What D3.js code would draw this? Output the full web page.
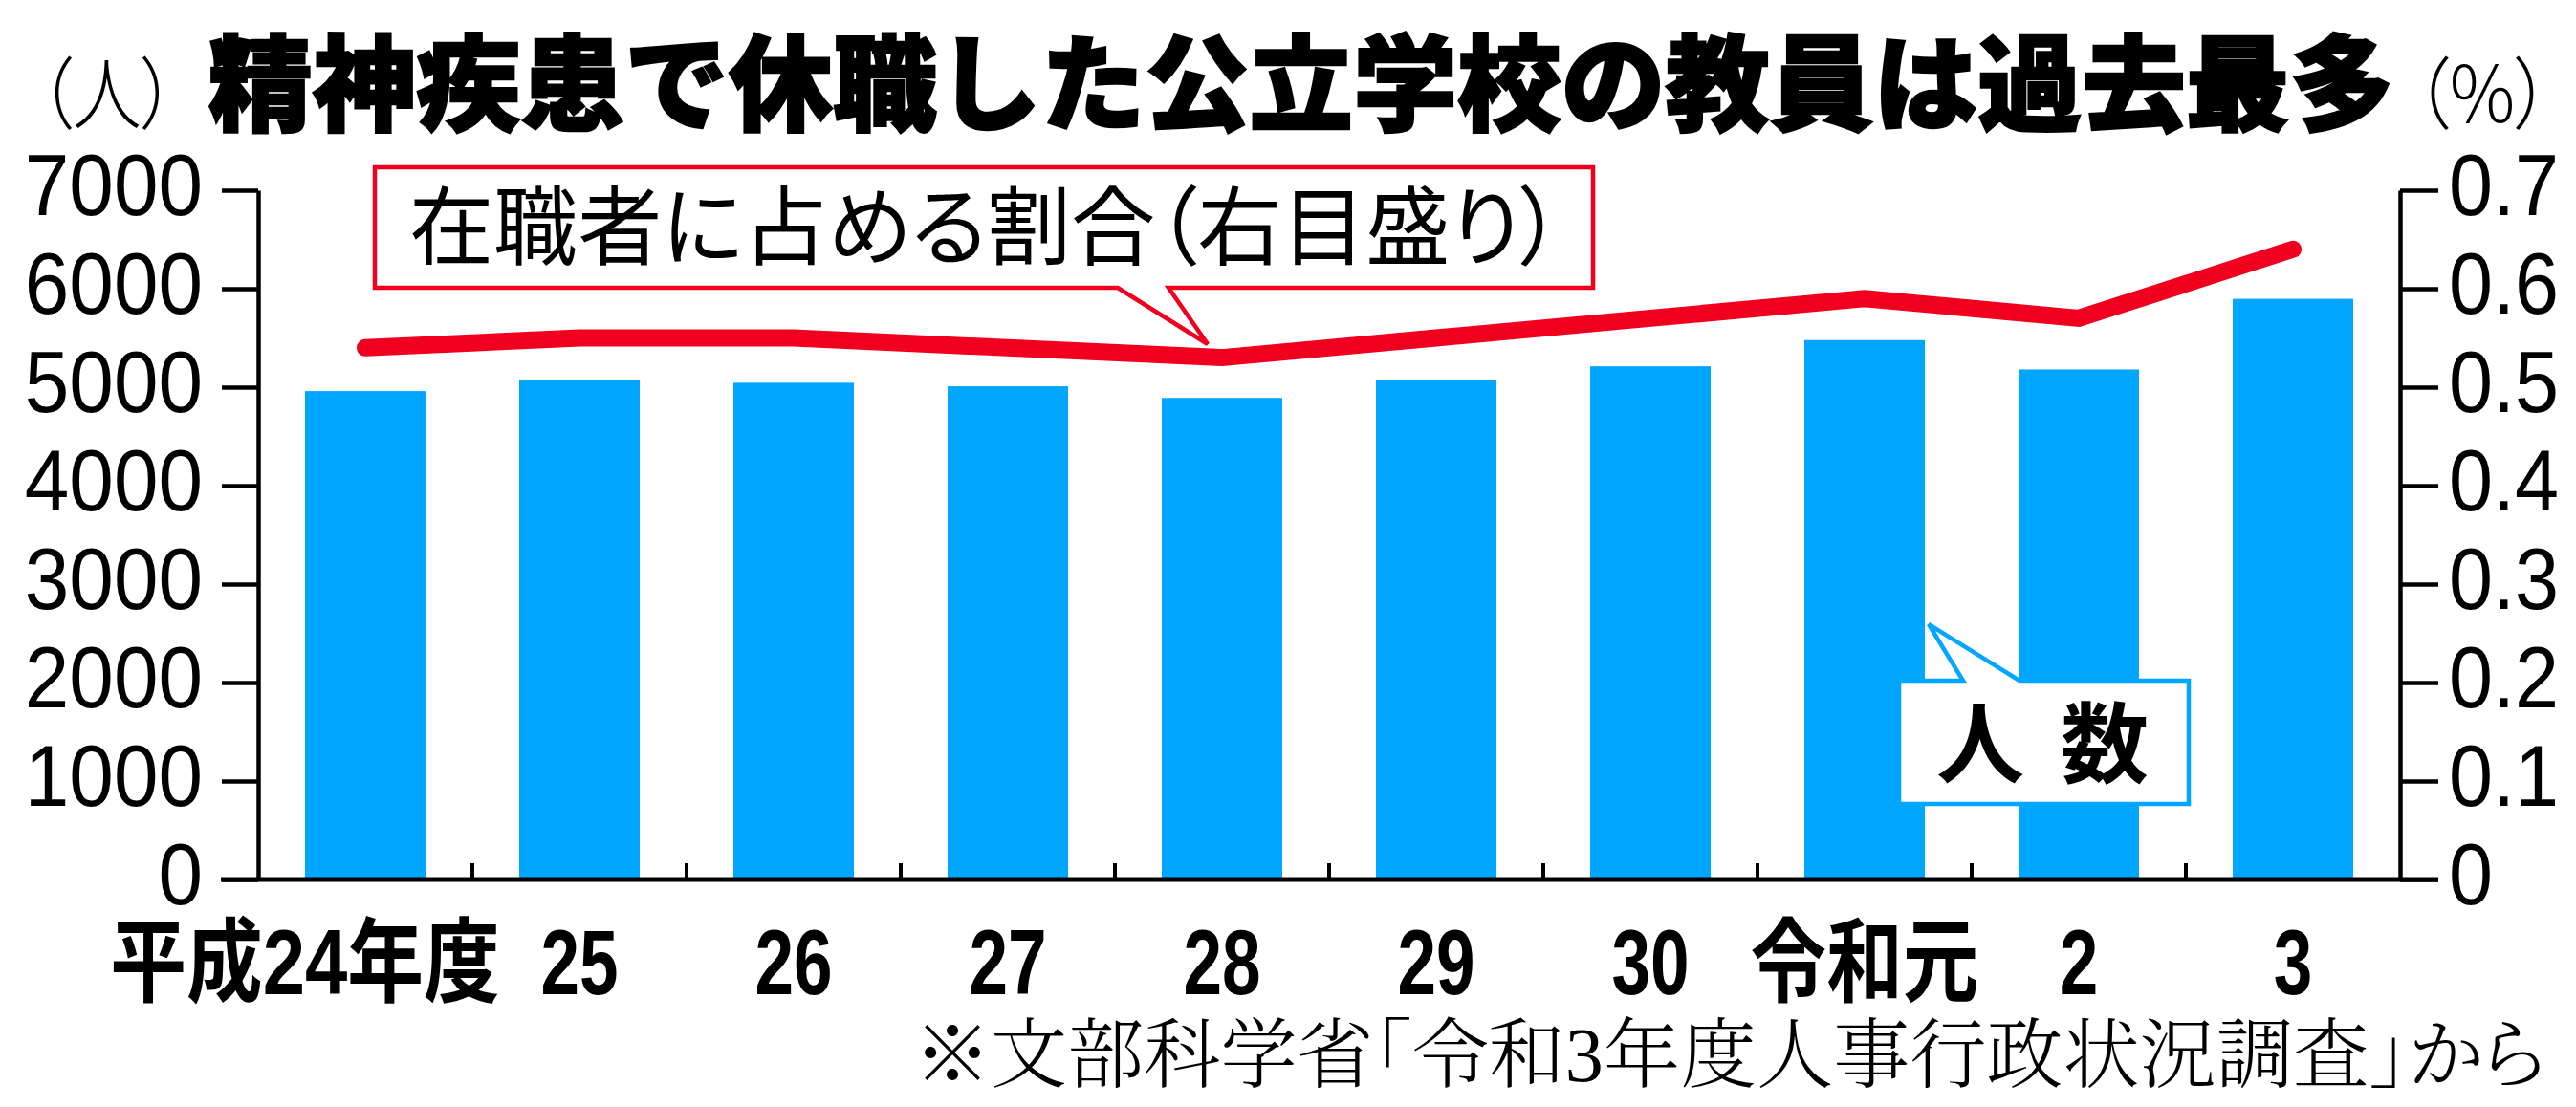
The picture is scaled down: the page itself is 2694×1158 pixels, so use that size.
<!DOCTYPE html>
<html><head><meta charset="utf-8">
<script src="https://cdn.jsdelivr.net/npm/d3@7/dist/d3.min.js"></script>
<style>
html,body{margin:0;padding:0;background:#fff;}
svg{display:block;}
.palt{font-feature-settings:"palt" 1;}
</style></head><body>
<svg id="chart" width="2694" height="1158"></svg>
<script>
// ---- data ----
const categories = ["平成24年度","25","26","27","28","29","30","令和元","2","3"];
const teachers   = [4960,5078,5045,5009,4891,5077,5212,5478,5180,5897];
const ratio      = [0.54,0.55,0.55,0.54,0.53,0.55,0.57,0.59,0.57,0.64];
const leftTicks  = [0,1000,2000,3000,4000,5000,6000,7000];
const rightTicks = [0,0.1,0.2,0.3,0.4,0.5,0.6,0.7];
const titleText  = "精神疾患で休職した公立学校の教員は過去最多";
const ratioLabel = "在職者に占める割合（右目盛り）";
const countLabel = "人 数";
const leftUnit   = "（人）";
const rightUnit  = "（%）";
const sourceText = "※文部科学省「令和3年度人事行政状況調査」から";

// ---- style ----
const BLUE = "#00a6ff", RED = "#f0001e";
const W = 2694, H = 1158;
const m = {left:270, right:2510, top:199, bottom:920};
const CJK = "'Noto Sans CJK JP','Noto Sans CJK SC',sans-serif";
const NUM = "'Liberation Sans','DejaVu Sans',sans-serif";
const MIX = "'Liberation Sans','Noto Sans CJK JP',sans-serif";
const SERIF = "'Liberation Serif','Noto Serif CJK JP','Noto Sans CJK JP',serif";

const svg = d3.select("#chart");
svg.append("rect").attr("width",W).attr("height",H).attr("fill","#fff");

const x  = d3.scaleBand().domain(categories).range([m.left,m.right]).paddingInner(0.4375).paddingOuter(0.21875);
const yL = d3.scaleLinear().domain([0,7000]).range([m.bottom,m.top]);
const yR = d3.scaleLinear().domain([0,0.7]).range([m.bottom,m.top]);
const cx = c => x(c) + x.bandwidth()/2;

// horizontal squeeze via transform (keeps anchor point fixed)
function squeeze(el, f){
  const s = d3.select(el);
  const x0 = +(s.attr("x")||0), y0 = +(s.attr("y")||0);
  s.attr("x",0).attr("y",0).attr("transform",`translate(${x0},${y0}) scale(${f},1)`);
}
function fitWidth(el, w){ squeeze(el, w/el.getComputedTextLength()); }

// bars
svg.append("g").selectAll("rect").data(teachers).join("rect")
  .attr("x",(d,i)=>x(categories[i])).attr("y",d=>yL(d))
  .attr("width",x.bandwidth()).attr("height",d=>yL(0)-yL(d))
  .attr("fill",BLUE);

// ratio line
const line = d3.line().x((d,i)=>cx(categories[i])).y(d=>yR(d));
svg.append("path").datum(ratio).attr("d",line)
  .attr("fill","none").attr("stroke",RED).attr("stroke-width",18)
  .attr("stroke-linecap","round").attr("stroke-linejoin","miter");

// left axis
const gL = svg.append("g").attr("transform",`translate(${m.left},0)`)
  .call(d3.axisLeft(yL).tickValues(leftTicks).tickFormat(d3.format("d"))
        .tickSize(38).tickSizeOuter(0).tickPadding(20));
gL.select(".domain").attr("stroke","#000").attr("stroke-width",4.5);
gL.selectAll(".tick line").attr("stroke","#000").attr("stroke-width",4.5);
gL.selectAll(".tick text").attr("font-family",NUM).attr("font-size",90)
  .attr("fill","#000").attr("dy","0.28em").each(function(){ squeeze(this,0.93); });

// right axis
const gR = svg.append("g").attr("transform",`translate(${m.right},0)`)
  .call(d3.axisRight(yR).tickValues(rightTicks).tickFormat(d=>d===0?"0":d.toFixed(1))
        .tickSize(40).tickSizeOuter(0).tickPadding(11));
gR.select(".domain").attr("stroke","#000").attr("stroke-width",4.5);
gR.selectAll(".tick line").attr("stroke","#000").attr("stroke-width",4.5);
gR.selectAll(".tick text").attr("font-family",NUM).attr("font-size",90)
  .attr("fill","#000").attr("dy","0.28em").each(function(){ squeeze(this,0.92); });

// baseline
svg.append("line").attr("x1",m.left-39).attr("x2",m.right+40)
  .attr("y1",yL(0)).attr("y2",yL(0)).attr("stroke","#000").attr("stroke-width",5);

// category boundary ticks
const bounds = categories.slice(1).map(c => x(c) - x.step()*x.paddingInner()/2);
svg.append("g").selectAll("line").data(bounds).join("line")
  .attr("x1",d=>d).attr("x2",d=>d).attr("y1",yL(0)).attr("y2",yL(0)-17)
  .attr("stroke","#000").attr("stroke-width",4);

// x labels
const firstShift = -63;
svg.append("g").selectAll("text").data(categories).join("text")
  .attr("x",(d,i)=>cx(d) + (i===0?firstShift:0)).attr("y",1040)
  .attr("text-anchor","middle").attr("font-family",MIX).attr("font-weight",700)
  .attr("font-size",96).attr("fill","#000").text(d=>d)
  .each(function(d){ squeeze(this, /^[0-9]+$/.test(d) ? 0.76 : 0.83); });

// red callout box
const rb = {x0:392,y0:175,x1:1666,y1:301};
svg.append("path")
  .attr("d",`M${rb.x0},${rb.y0}H${rb.x1}V${rb.y1}H1222L1263,360L1169,${rb.y1}H${rb.x0}Z`)
  .attr("fill","#fff").attr("stroke",RED).attr("stroke-width",4.5).attr("stroke-linejoin","miter");
svg.append("text").attr("class","palt").attr("x",428).attr("y",270).attr("font-family",CJK).attr("font-weight",400)
  .attr("font-size",90).attr("fill","#000").text(ratioLabel)
  .each(function(){ fitWidth(this,1206); });

// blue callout box
const bb = {x0:1986,y0:712,x1:2289,y1:841};
svg.append("path")
  .attr("d",`M${bb.x0},${bb.y0}H2053L2017,653L2112,${bb.y0}H${bb.x1}V${bb.y1}H${bb.x0}Z`)
  .attr("fill","#fff").attr("stroke",BLUE).attr("stroke-width",4.5).attr("stroke-linejoin","miter");
svg.append("text").attr("x",2136).attr("y",812).attr("text-anchor","middle")
  .attr("font-family",CJK).attr("font-weight",700).attr("font-size",92).attr("fill","#000")
  .attr("textLength",222).attr("lengthAdjust","spacing").text(countLabel);

// title
svg.append("text").attr("x",218).attr("y",128).attr("font-family",CJK).attr("font-weight",900)
  .attr("font-size",109).attr("fill","#000").attr("stroke","#000").attr("stroke-width",2.5)
  .text(titleText).each(function(){ fitWidth(this,2286); });

// units
svg.append("text").attr("class","palt").attr("x",112).attr("y",128).attr("text-anchor","middle")
  .attr("font-family",CJK).attr("font-weight",300).attr("font-size",82).attr("fill","#000")
  .text(leftUnit).each(function(){ fitWidth(this,144); });
svg.append("text").attr("class","palt").attr("x",2596).attr("y",128).attr("text-anchor","middle")
  .attr("font-family",CJK).attr("font-weight",300).attr("font-size",82).attr("fill","#000")
  .text(rightUnit).each(function(){ fitWidth(this,145); });

// source
svg.append("text").attr("class","palt").attr("x",956).attr("y",1131)
  .attr("font-family",SERIF).attr("font-weight",300)
  .attr("font-size",80).attr("fill","#000").text(sourceText)
  .each(function(){ fitWidth(this,1705); });
</script></body></html>
